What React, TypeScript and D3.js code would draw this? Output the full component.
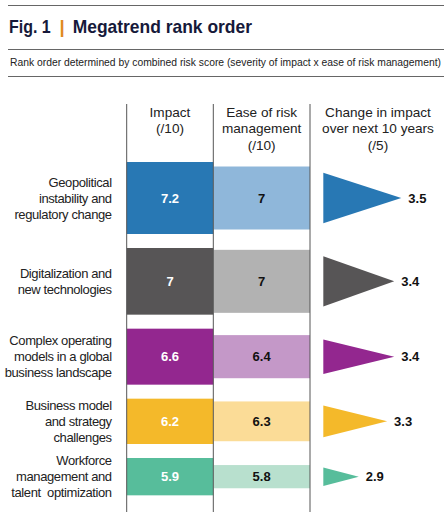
import * as d3 from 'd3';
import React from 'react';

const categories = [
  ['Geopolitical', 'instability and', 'regulatory change'],
  ['Digitalization and', 'new technologies'],
  ['Complex operating', 'models in a global', 'business landscape'],
  ['Business model', 'and strategy', 'challenges'],
  ['Workforce', 'management and', 'talent  optimization'],
];
const impact = [7.2, 7, 6.6, 6.2, 5.9];
const ease = [7, 7, 6.4, 6.3, 5.8];
const change = [3.5, 3.4, 3.4, 3.3, 2.9];

const darkColors = ['#2878b4', '#575556', '#93278f', '#f4b92a', '#57bd9b'];
const lightColors = ['#8fb7da', '#b2b2b2', '#c498c8', '#fbdc97', '#b8e0ce'];

const headers = [
  ['Impact', '(/10)'],
  ['Ease of risk', 'management', '(/10)'],
  ['Change in impact', 'over next 10 years', '(/5)'],
];

const font = '"Liberation Sans", Arial, sans-serif';

const App: React.FC = () => {
  const width = 444;
  const height = 532;
  const colX = [126.7, 213.3, 310];
  const top = 162;
  const gap = 14;

  const impactH = d3.scaleLinear().domain([4.5, 7.2]).range([0, 72]);
  const easeH = d3.scaleLinear().domain([5.1, 7]).range([0, 63]);
  const triW = d3.scaleLinear().domain([2.4, 3.5]).range([0, 78]);

  // stack rows, each as tall as its impact bar
  let y = top;
  const rows = impact.map((v, i) => {
    const h = impactH(v);
    const r = { y0: y, h, cy: y + h / 2 };
    y += h + gap;
    return r;
  });

  const triX = 323.3;
  const tri = d3.line();

  return (
    <svg width={width} height={height} style={{ position: 'absolute', left: 0, top: 0 }} fontFamily={font}>
      <line x1={8} x2={444} y1={5.5} y2={5.5} stroke="#666" />
      <g fontSize={18.5} fontWeight="bold">
        <text x={9} y={33.3} fill="#16193a" textLength={41.7} lengthAdjust="spacingAndGlyphs">Fig. 1</text>
        <text x={59.5} y={33.3} fill="#e08a1e">|</text>
        <text x={72.7} y={33.3} fill="#16193a" textLength={179.3} lengthAdjust="spacingAndGlyphs">
          Megatrend rank order
        </text>
      </g>
      <line x1={8} x2={444} y1={49.5} y2={49.5} stroke="#666" />
      <text x={10} y={66} fontSize={10} fill="#222" textLength={431} lengthAdjust="spacingAndGlyphs">
        Rank order determined by combined risk score (severity of impact x ease of risk management)
      </text>
      <line x1={8} x2={444} y1={76.5} y2={76.5} stroke="#666" />

      {headers.map((lines, c) => {
        const cx = c < 2 ? (colX[c] + colX[c + 1]) / 2 : 378;
        return (
          <text key={c} textAnchor="middle" fontSize={13.6} fill="#222">
            {lines.map((l, k) => (
              <tspan key={k} x={cx} y={116.7 + k * 16.7}>{l}</tspan>
            ))}
          </text>
        );
      })}

      {rows.map((r, i) => {
        const eh = easeH(ease[i]);
        const th = eh * 0.8;
        const tw = triW(change[i]);
        const lines = categories[i];
        const ly0 = r.cy + 4.5 - ((lines.length - 1) * 16) / 2;
        return (
          <g key={i}>
            <rect x={colX[0]} y={r.y0} width={colX[1] - colX[0]} height={r.h} fill={darkColors[i]} />
            <rect x={colX[1]} y={r.cy - eh / 2} width={colX[2] - colX[1]} height={eh} fill={lightColors[i]} />
            <path
              d={tri([[triX, r.cy - th / 2], [triX + tw, r.cy], [triX, r.cy + th / 2]]) + 'Z'}
              fill={darkColors[i]}
            />
            <text x={(colX[0] + colX[1]) / 2} y={r.cy + 4.6} textAnchor="middle" fontSize={13} fontWeight="bold" fill="#fff">
              {impact[i]}
            </text>
            <text x={(colX[1] + colX[2]) / 2} y={r.cy + 4.6} textAnchor="middle" fontSize={13} fontWeight="bold" fill="#111">
              {ease[i]}
            </text>
            <text x={triX + tw + 7} y={r.cy + 4.6} fontSize={13} fontWeight="bold" fill="#111">
              {change[i]}
            </text>
            <text textAnchor="end" fontSize={13} letterSpacing={-0.4} fill="#222" style={{ whiteSpace: 'pre' }}>
              {lines.map((l, k) => (
                <tspan key={k} x={111.7} y={ly0 + k * 16}>{l}</tspan>
              ))}
            </text>
          </g>
        );
      })}

      {colX.map((x, i) => (
        <line key={i} x1={x} x2={x} y1={104} y2={512} stroke="#555" strokeWidth={1} />
      ))}
    </svg>
  );
};

export default App;
